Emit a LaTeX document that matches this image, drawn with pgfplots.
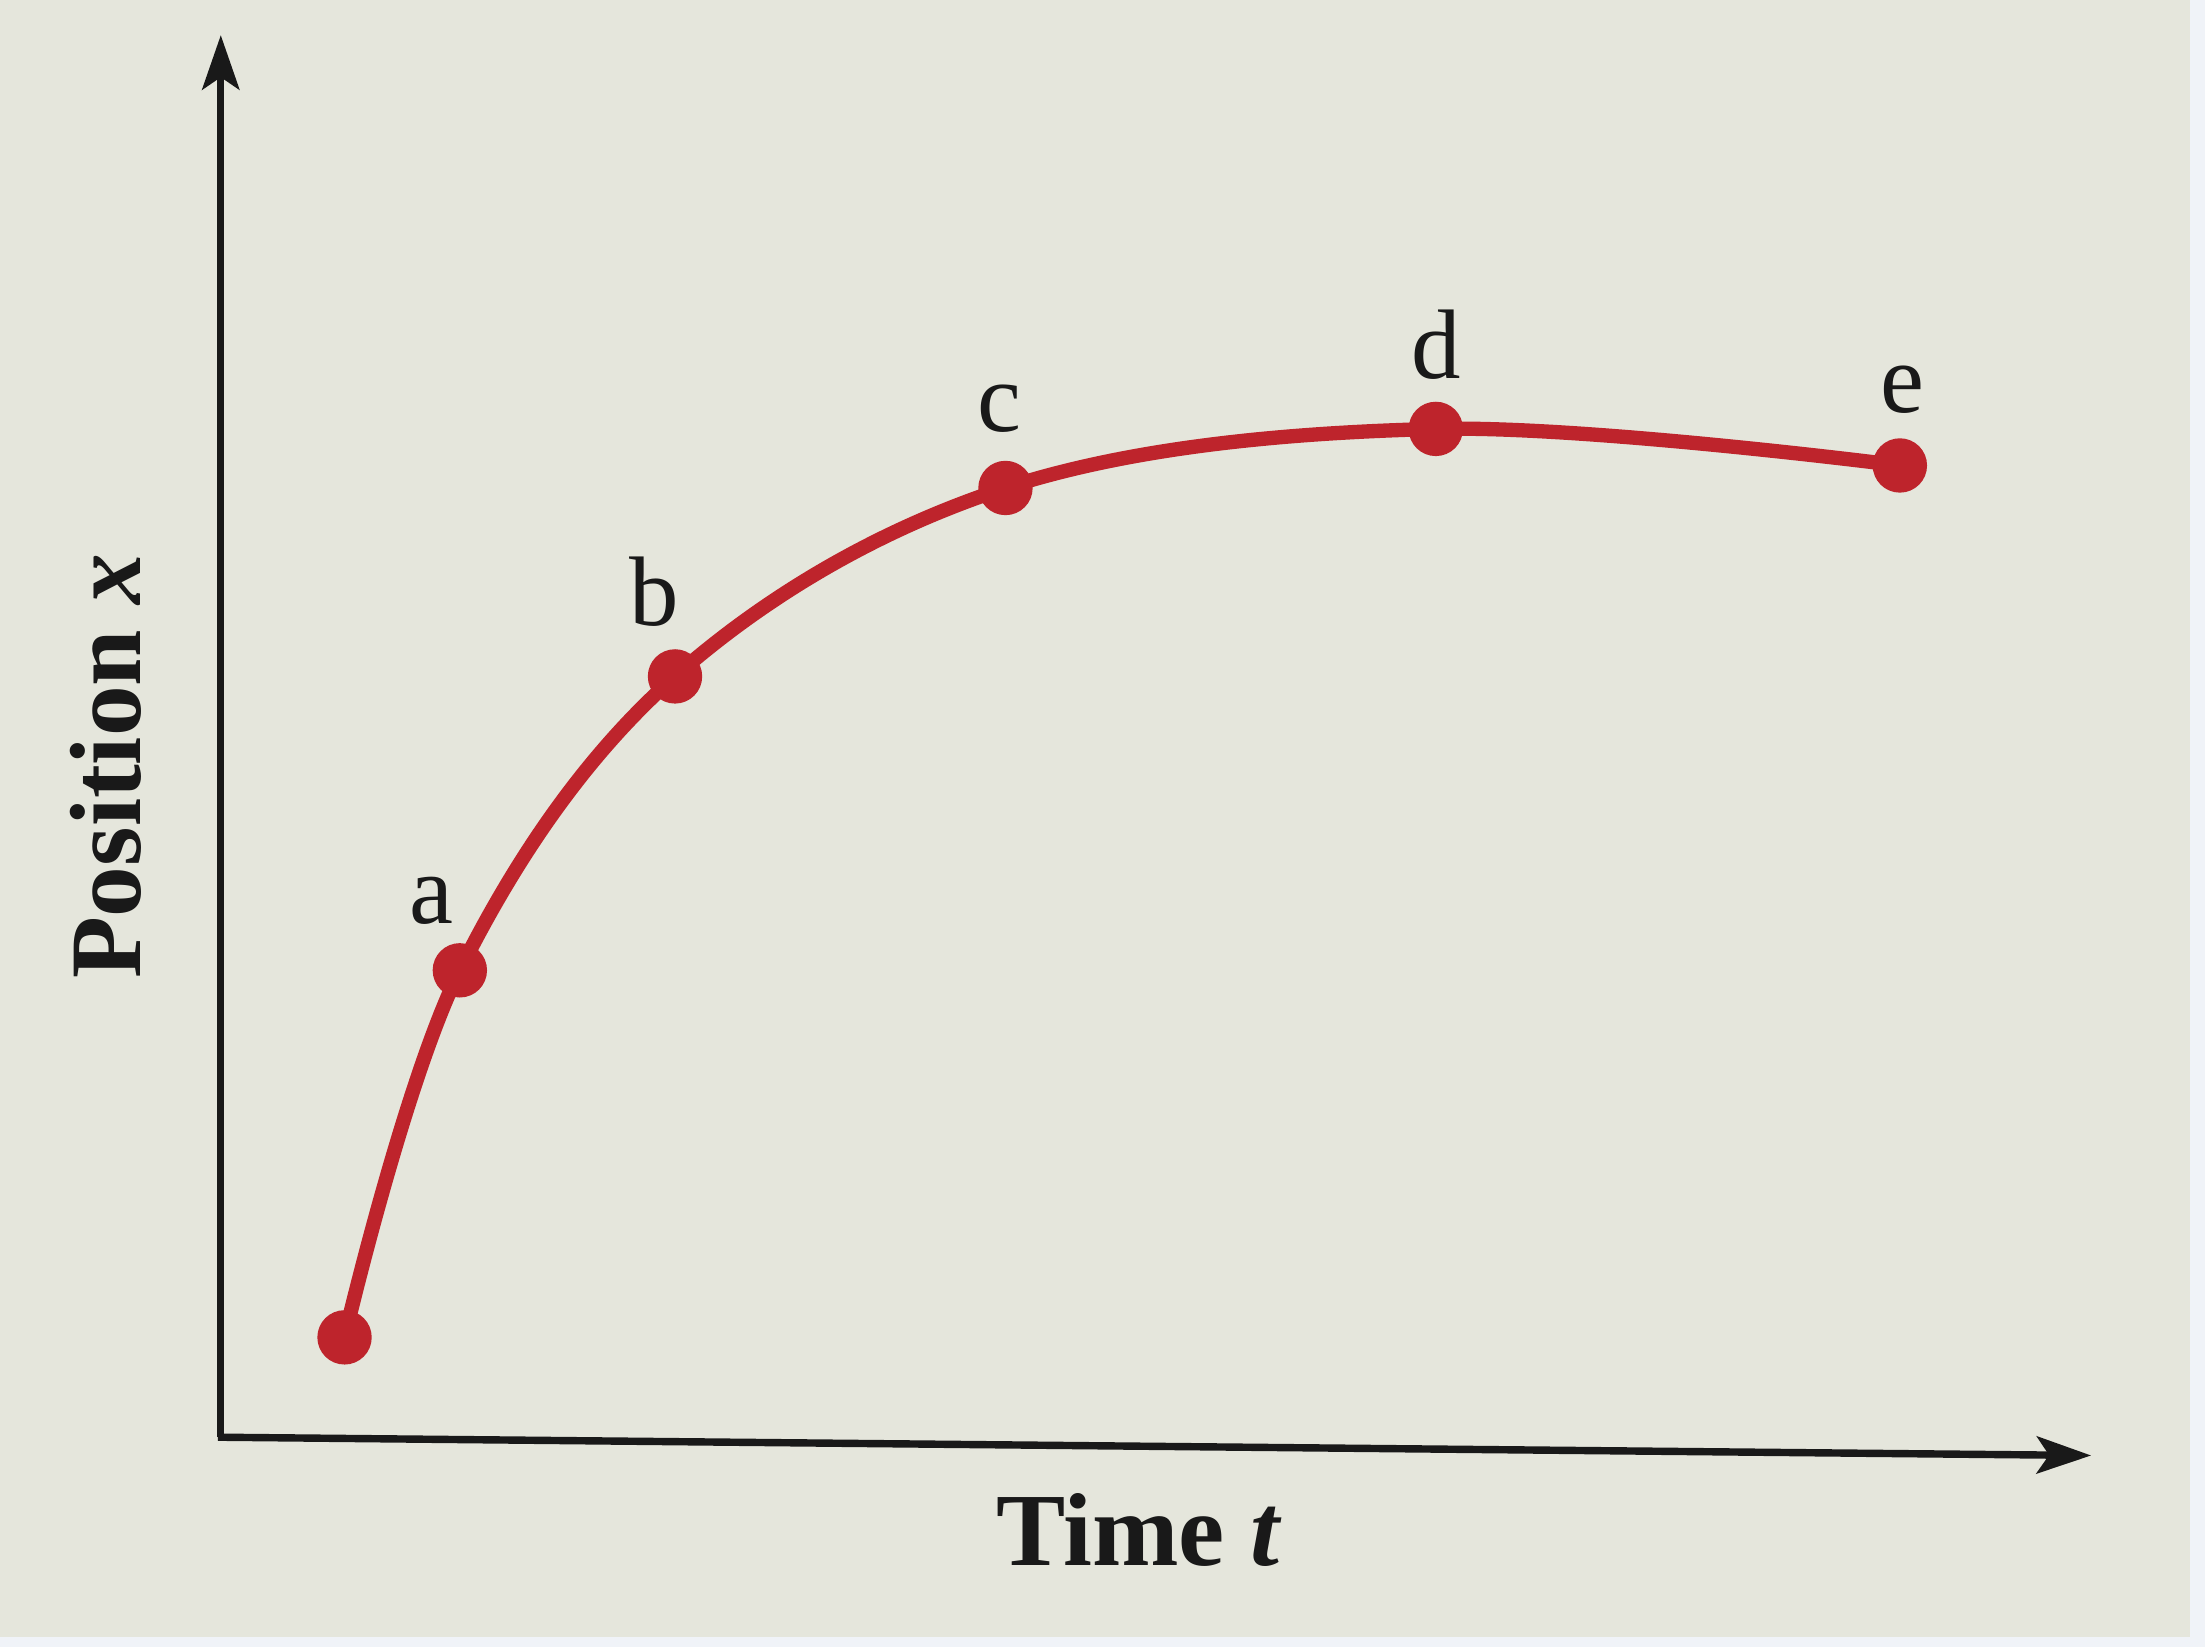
\documentclass[border=0pt]{standalone}
\usepackage{pgfplots}
\pgfplotsset{compat=1.18}
\usepackage{fontspec}
\setmainfont{Liberation Serif}
\usetikzlibrary{arrows.meta}
\definecolor{bg}{RGB}{229,230,220}
\definecolor{curvered}{RGB}{190,36,44}
\definecolor{ink}{RGB}{25,25,25}
\definecolor{edge}{RGB}{240,243,248}
\begin{document}
\begin{tikzpicture}
\begin{axis}[
  width=15.68cm, height=11.71cm, scale only axis,
  xmin=0, xmax=1568, ymin=0, ymax=1171,
  axis lines=none, clip=false,
]
\fill[bg] (axis cs:0,0) rectangle (axis cs:1568,1171);
\fill[edge] (axis cs:1557,0) rectangle (axis cs:1568,1171);
\fill[edge] (axis cs:0,0) rectangle (axis cs:1568,7);
% axes
\addplot[ink, line width=1.5pt, -{Stealth[length=11pt,width=7.5pt,inset=2.5pt]}]
  coordinates {(157,149) (157,1146)};
\addplot[ink, line width=1.5pt, -{Stealth[length=11pt,width=7.5pt,inset=2.5pt]}]
  coordinates {(155,149) (1487,136)};
% curve
\addplot[curvered, line width=2.9pt, smooth, tension=0.6] coordinates {
  (245,220) (327,481) (480,690) (715,824) (1021,866) (1351,840)
};
% dots
\addplot[only marks, mark=*, mark size=5.3pt, curvered, mark options={fill=curvered, draw=curvered}]
  coordinates {(245,220) (327,481) (480,690) (715,824) (1021,866) (1351,840)};
% point labels
\node[anchor=base, font=\fontsize{20}{24}\selectfont, text=ink] at (axis cs:307,514) {a};
\node[anchor=base, font=\fontsize{20}{24}\selectfont, text=ink] at (axis cs:465,726) {b};
\node[anchor=base, font=\fontsize{20}{24}\selectfont, text=ink] at (axis cs:711,864) {c};
\node[anchor=base, font=\fontsize{20}{24}\selectfont, text=ink] at (axis cs:1021,902) {d};
\node[anchor=base, font=\fontsize{20}{24}\selectfont, text=ink] at (axis cs:1353,878) {e};
% axis titles
\node[anchor=base, font=\fontsize{21}{25}\selectfont\bfseries, text=ink] at (axis cs:810,58) {Time \textit{t}};
\node[rotate=90, font=\fontsize{20.5}{25}\selectfont\bfseries, text=ink] at (axis cs:75,626) {Position \textit{x}};
\end{axis}
\end{tikzpicture}
\end{document}
